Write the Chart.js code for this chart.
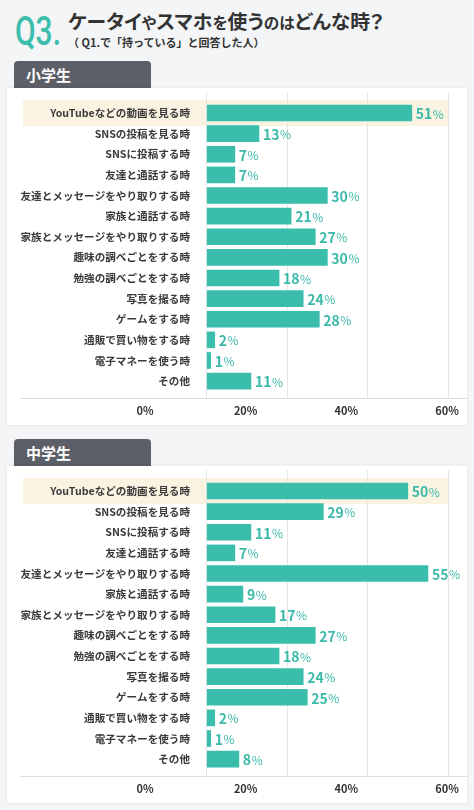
<!DOCTYPE html>
<html lang="ja">
<head>
<meta charset="utf-8">
<script src="https://cdn.jsdelivr.net/npm/chart.js@4.4.1/dist/chart.umd.min.js"></script>
<style>
  html, body { margin: 0; padding: 0; }
  body { width: 474px; height: 810px; background: #f4f5f7; position: relative; overflow: hidden;
         font-family: 'Noto Sans CJK JP', 'Noto Sans', sans-serif; color: #333; }
  .q { position: absolute; left: 15px; top: 11px; font-family: Roboto, sans-serif; font-size: 41px; line-height: 40px;
       color: #3dbdac; font-weight: 500; transform: scaleX(0.73); transform-origin: left top; letter-spacing: 0; }
  .title { position: absolute; left: 68px; top: 7px; font-size: 19.8px; line-height: 27px; font-weight: bold; color: #333;
           white-space: nowrap; font-feature-settings: "palt"; }
  .title .s { font-size: 15.6px; }
  .sub { position: absolute; left: 68px; top: 34px; font-size: 11px; line-height: 16px; font-weight: bold; color: #333; white-space: nowrap; }
  .tab { position: absolute; left: 14px; width: 137px; height: 27px; background: #5c5f67; border-radius: 4px 4px 0 0;
         color: #fff; font-weight: bold; font-size: 15px; line-height: 27px; padding-left: 12px; box-sizing: border-box; }
  .card { position: absolute; left: 7px; width: 460px; height: 337px; background: #fff; box-shadow: 0 0 4px rgba(0,0,0,0.08); }
  .card canvas { position: absolute; left: 0; top: 0; }
</style>
</head>
<body>
<div class="q">Q3.</div>
<div class="title">ケータイ<span class="s">や</span>スマホ<span class="s">を</span>使う<span class="s">のは</span>どんな時？</div>
<div class="sub">（ Q1.で「持っている」と回答した人）</div>

<div class="tab" style="top:61px;">小学生</div>
<div class="card" style="top:88px;"><canvas id="c1" width="460" height="337"></canvas></div>

<div class="tab" style="top:439px;">中学生</div>
<div class="card" style="top:466px;"><canvas id="c2" width="460" height="337"></canvas></div>

<script>
// ---- data ----
const categories = [
  'YouTubeなどの動画を見る時',
  'SNSの投稿を見る時',
  'SNSに投稿する時',
  '友達と通話する時',
  '友達とメッセージをやり取りする時',
  '家族と通話する時',
  '家族とメッセージをやり取りする時',
  '趣味の調べごとをする時',
  '勉強の調べごとをする時',
  '写真を撮る時',
  'ゲームをする時',
  '通販で買い物をする時',
  '電子マネーを使う時',
  'その他'
];
const elementaryValues = [51, 13, 7, 7, 30, 21, 27, 30, 18, 24, 28, 2, 1, 11];
const juniorHighValues = [50, 29, 11, 7, 55, 9, 17, 27, 18, 24, 25, 2, 1, 8];
const tickValues = [0, 20, 40, 60];
const tickLabels = ['0%', '20%', '40%', '60%'];
const highlightIndex = 0;

// ---- style ----
const TEAL = '#3bbdab';
const FONT = "'Noto Sans CJK JP', 'Noto Sans', sans-serif";
Chart.defaults.font.family = FONT;
Chart.defaults.color = '#333';

const highlightPlugin = {
  id: 'highlight',
  beforeDraw(chart) {
    const {ctx, scales: {x, y}} = chart;
    const cy = y.getPixelForValue(highlightIndex);
    ctx.save();
    ctx.fillStyle = '#faf3e2';
    const left = x.left + 3;
    const right = x.getPixelForValue(tickValues[tickValues.length - 1]);
    ctx.fillRect(left, cy - 13, right - left, 26);
    ctx.restore();
  }
};

const valueLabelPlugin = {
  id: 'valueLabels',
  afterDatasetsDraw(chart) {
    const {ctx} = chart;
    const meta = chart.getDatasetMeta(0);
    const data = chart.data.datasets[0].data;
    ctx.save();
    ctx.textBaseline = 'middle';
    ctx.textAlign = 'left';
    ctx.fillStyle = '#3cbaa9';
    meta.data.forEach((el, i) => {
      const num = String(data[i].x);
      let px = el.x + 4;
      const py = el.y + 1;
      ctx.font = 'bold 14px ' + FONT;
      ctx.fillText(num, px, py);
      px += ctx.measureText(num).width + 0.5;
      ctx.font = '12px ' + FONT;
      ctx.fillText('%', px, py);
    });
    ctx.restore();
  }
};

function makeChart(id, values) {
  const points = values.map((v, i) => ({x: v, y: i}));
  return new Chart(document.getElementById(id), {
    type: 'bar',
    data: {
      datasets: [{
        data: points,
        backgroundColor: TEAL,
        borderWidth: 0,
        barThickness: 16
      }]
    },
    options: {
      indexAxis: 'y',
      responsive: false,
      animation: false,
      events: [],
      layout: { padding: { left: 13, right: 0, top: 4, bottom: 2 } },
      plugins: { legend: { display: false }, tooltip: { enabled: false } },
      scales: {
        y: {
          type: 'linear',
          reverse: true,
          offset: false,
          min: -1.02,
          max: 13.82,
          grid: { display: false, drawTicks: false, offset: false },
          border: { display: false },
          afterBuildTicks(s) { s.ticks = categories.map((_, i) => ({value: i})); },
          afterFit(s) { s.width = 170; s.paddingTop = 0; s.paddingBottom = 0; },
          ticks: {
            autoSkip: false,
            padding: 0,
            color: '#3a3a3a',
            font: { size: 10.6, weight: 'bold', lineHeight: 1.2 },
            callback: (v) => categories[v]
          }
        },
        x: {
          type: 'linear',
          position: 'bottom',
          fullSize: true,
          min: -46.42,
          max: 64.72,
          afterBuildTicks(s) { s.ticks = tickValues.map(v => ({value: v})); },
          grid: { color: '#e6e6e6', lineWidth: 1, drawTicks: false },
          border: { display: true, color: '#dcdcdc', width: 1 },
          ticks: { display: false }
        },
        x2: {
          type: 'linear',
          position: 'bottom',
          fullSize: true,
          min: -24.83,
          max: 63.97,
          afterBuildTicks(s) { s.ticks = tickValues.map(v => ({value: v})); },
          afterFit(s) { s.paddingLeft = 0; s.paddingRight = 0; },
          grid: { display: false, drawTicks: false },
          border: { display: false },
          ticks: {
            autoSkip: false,
            maxRotation: 0,
            padding: 5.9,
            color: '#333',
            font: { size: 11, weight: 'bold', lineHeight: 1.2 },
            callback: (v) => tickLabels[tickValues.indexOf(v)]
          }
        }
      }
    },
    plugins: [highlightPlugin, valueLabelPlugin]
  });
}

makeChart('c1', elementaryValues);
makeChart('c2', juniorHighValues);
</script>
</body>
</html>
